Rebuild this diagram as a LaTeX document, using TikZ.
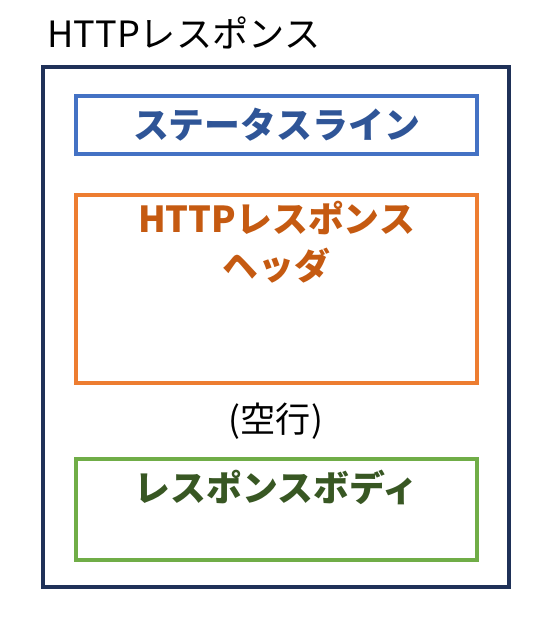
\documentclass[tikz,border=0pt]{standalone}
\usepackage{fontspec}
\setmainfont{Noto Sans CJK JP}
\usepackage{tikz}
\usetikzlibrary{positioning}

\definecolor{navy}{HTML}{1F3158}
\definecolor{stblue}{HTML}{4472C4}
\definecolor{sttext}{HTML}{2F5597}
\definecolor{hdorange}{HTML}{ED7D31}
\definecolor{hdtext}{HTML}{C55A11}
\definecolor{bdgreen}{HTML}{70AD47}
\definecolor{bdtext}{HTML}{385723}

\begin{document}
\begin{tikzpicture}[x=0.02cm,y=-0.02cm,
	partbox/.style={draw,line width=2pt,minimum width=8.02cm,inner sep=0pt},
	parttext/.style={font=\fontsize{20.4}{25}\selectfont\bfseries,align=center,inner sep=0pt}]
	\useasboundingbox (0,0) rectangle (548,620);								% рамка
	\node[anchor=base west,inner sep=0pt,font=\fontsize{20.6}{24}\selectfont] (title) at (47,47) {HTTPレスポンス};
	\node[draw=navy,line width=2pt,minimum width=9.32cm,minimum height=10.4cm] (resp) at (276,327) {};
	\node[partbox,stblue,minimum height=1.16cm,text=sttext,font=\fontsize{20.4}{24}\selectfont\bfseries] (status) at (276.5,125) {ステータスライン};
	\node[partbox,hdorange,minimum height=3.76cm] (header) at (276.5,289) {};
	\node[parttext,text=hdtext] (headertext) at (276.5,242) {HTTPレスポンス\\[0.06cm]ヘッダ};
	\node[font=\fontsize{20}{24}\selectfont,inner sep=0pt] (blank) at (276,421) {(空行)};
	\node[partbox,bdgreen,minimum height=2.02cm] (body) at (276.5,509.5) {};
	\node[parttext,text=bdtext] (bodytext) at (276.5,487) {レスポンスボディ};
\end{tikzpicture}
\end{document}
